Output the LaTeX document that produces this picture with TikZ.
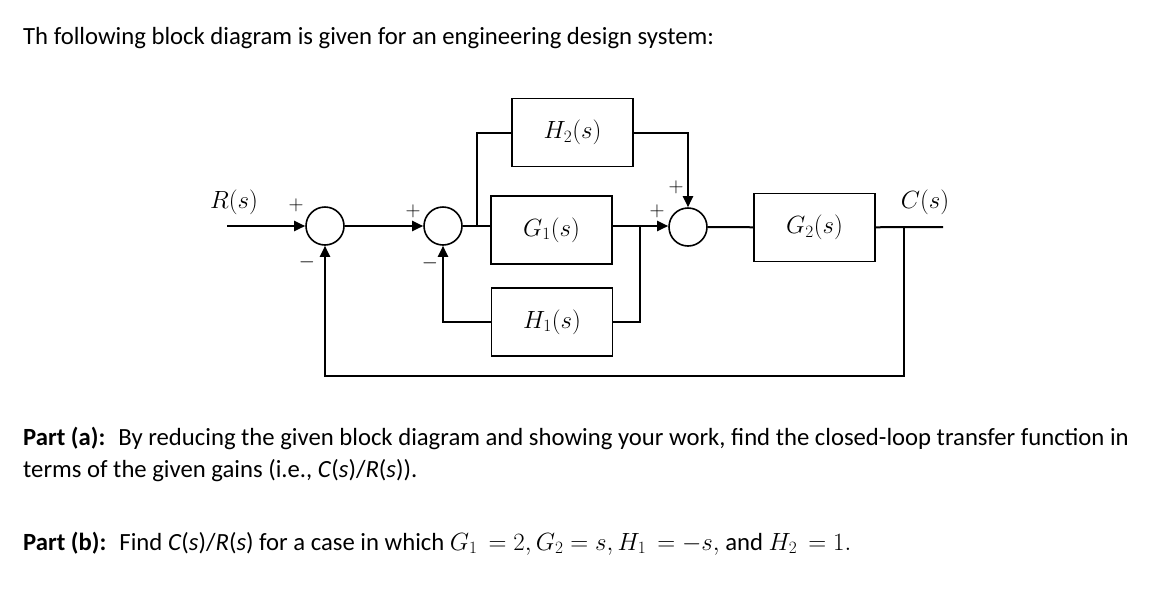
\documentclass[tikz,border=0pt]{standalone}
\usepackage{fontspec}
\setmainfont{Carlito}
\usetikzlibrary{arrows.meta}
\begin{document}
\begin{tikzpicture}[x=1pt,y=-1pt,
  blk/.style={draw,line width=1.6pt,minimum width=121pt,minimum height=68pt,inner sep=0pt,font=\fontsize{23}{23}\selectfont},
  sum/.style={draw,circle,line width=1.6pt,minimum size=38pt,inner sep=0pt},
  ln/.style={line width=2pt},
  ar/.style={ln,-{Triangle[length=11pt,width=10pt]}},
  sg/.style={font=\fontsize{21}{21}\selectfont},
  txt/.style={anchor=base west,inner sep=0pt,font=\fontsize{24.7}{28}\selectfont}]
\useasboundingbox (0,0) rectangle (1161,595);
\node[txt] (t0) at (23,44) {Th following block diagram is given for an engineering design system:};
\node[txt] (t1) at (23,445) {\textbf{Part (a):} \ By reducing the given block diagram and showing your work, find the closed-loop transfer function in};
\node[txt] (t2) at (23,477) {terms of the given gains (i.e., \textit{C}(\textit{s})/\textit{R}(\textit{s})).};
\node[txt] (t3) at (23,550) {\textbf{Part (b):} \ Find \textit{C}(\textit{s})/\textit{R}(\textit{s}) for a case in which $G_1\,=2, G_2=s, H_1\,=-s,$ and $H_2\,=1.$};

\node[sum] (s1) at (325,226) {};
\node[sum] (s2) at (443,226) {};
\node[sum] (s3) at (688,227) {};
\node[blk] (g1) at (551.5,230) {$G_1(s)$};
\node[blk] (h2) at (572.5,132.5) {$H_2(s)$};
\node[blk] (h1) at (552,322) {$H_1(s)$};
\node[blk] (g2) at (814.5,227.5) {$G_2(s)$};
\coordinate (in) at (227,226);
\coordinate (out) at (943,227);
\coordinate (b1) at (477,226);
\coordinate (b2) at (640,226);
\coordinate (b3) at (904,227);

\draw[ar] (in) -- (s1);
\draw[ar] (s1) -- (s2);
\draw[ln] (s2) -- (g1.west |- s2);
\draw[ln] (b1) |- (h2.west);
\draw[ar] (h2.east) -| (s3.north);
\draw[ar] (g1.east |- s2) -- (s3.west |- s2);
\draw[ln] (b2) |- (h1.east);
\draw[ar] (h1.west) -| (s2.south);
\draw[ln] (s3) -- (g2);
\draw[ln] (g2) -- (out);
\draw[ar] (b3) -- (904,376) -| (s1.south);

\node[font=\fontsize{23}{23}\selectfont] (lr) at (234,202) {$R(s)$};
\node[font=\fontsize{23}{23}\selectfont] (lc) at (925,202) {$C(s)$};
\node[sg] (p1) at (296,205) {$+$};
\node[sg] (m1) at (307,262) {$-$};
\node[sg] (p2) at (413,211) {$+$};
\node[sg] (m2) at (430,263) {$-$};
\node[sg] (p3) at (676,187) {$+$};
\node[sg] (p4) at (657,211) {$+$};
\end{tikzpicture}
\end{document}
